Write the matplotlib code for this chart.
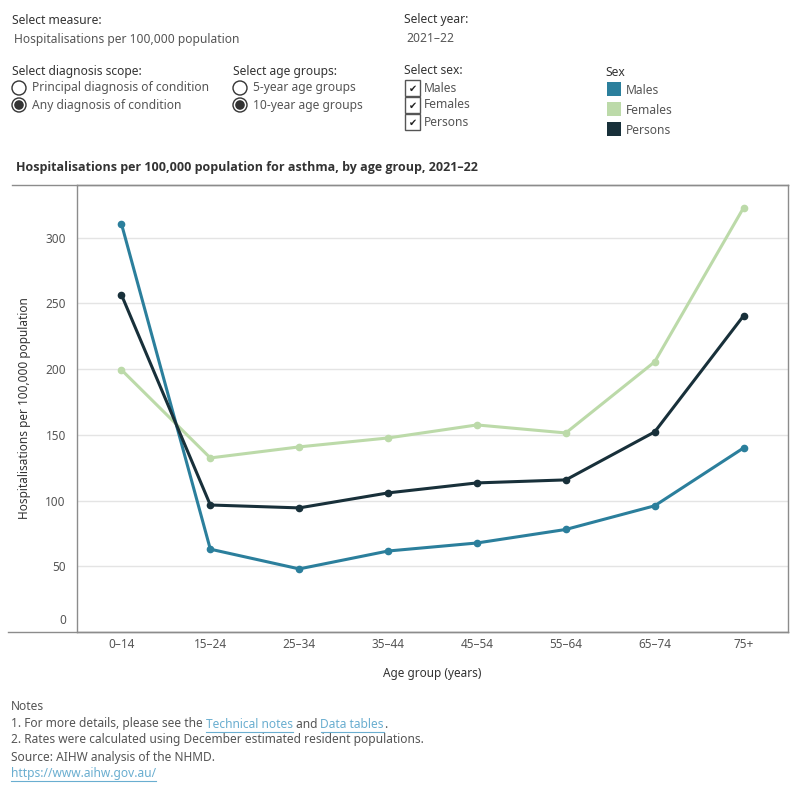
import matplotlib
matplotlib.use("Agg")
import matplotlib.pyplot as plt
from matplotlib.lines import Line2D
from matplotlib.patches import Circle, Rectangle
import matplotlib.transforms as mtransforms

plt.rcParams['font.family'] = ['Noto Sans', 'DejaVu Sans']

# ---------------- data ----------------
age_groups = ["0–14", "15–24", "25–34", "35–44", "45–54", "55–64", "65–74", "75+"]
males = [310.5, 63, 48, 61.6, 67.7, 78, 96, 140]
females = [199.4, 132.4, 140.8, 147.6, 157.5, 151.4, 205.5, 322.7]
persons = [256.5, 96.6, 94.4, 105.8, 113.4, 115.7, 152.2, 240.5]
y_ticks = [0, 50, 100, 150, 200, 250, 300]

series_names = ["Males", "Females", "Persons"]
colors = {"Males": "#2b7f9c", "Females": "#bcdaa9", "Persons": "#18303a"}

W, H = 800, 800
fig = plt.figure(figsize=(8, 8), dpi=100)


def fx(x):
    return x / W


def fy(y):
    return 1 - y / H


TXT = "#555555"
DARK = "#333333"

# ---------------- axes ----------------
L, R, T, B = 77, 788, 185, 632
ax = fig.add_axes([fx(L), fy(B), fx(R - L), (B - T) / H])
xs = list(range(len(age_groups)))
for name, vals in zip(series_names, [males, females, persons]):
    ax.plot(xs, vals, color=colors[name], lw=2.2, marker='o', ms=4.5,
            solid_joinstyle='round', zorder=3)

ax.set_xlim(-0.5, 7.5)
ax.set_ylim(0, 340)
ax.set_xticks(xs)
ax.set_xticklabels(age_groups, fontsize=8.5, color=TXT)
ax.set_yticks(y_ticks)
ax.set_yticklabels([str(v) for v in y_ticks], fontsize=8.5, color=TXT)
ax.tick_params(length=0)
ax.tick_params(axis='y', pad=8)
ax.tick_params(axis='x', pad=4)
ax.grid(axis='y', color='#e4e4e4', lw=1)
ax.set_axisbelow(True)
for s in ax.spines.values():
    s.set_color('#8c8c8c')
    s.set_linewidth(1)
# shift "0" label up
lbl0 = ax.get_yticklabels()[0]
lbl0.set_transform(lbl0.get_transform() + mtransforms.ScaledTranslation(0, 9 / 72, fig.dpi_scale_trans))

ax.set_ylabel("Hospitalisations per 100,000 population", fontsize=8.5, color=DARK, labelpad=10)
ax.set_xlabel("Age group (years)", fontsize=8.5, color=DARK, labelpad=12)

# extension lines
fig.add_artist(Line2D([fx(12), fx(R)], [fy(T), fy(T)], color='#8c8c8c', lw=1))
fig.add_artist(Line2D([fx(8), fx(R)], [fy(B), fy(B)], color='#8c8c8c', lw=1))

# title
fig.text(fx(16), fy(167), "Hospitalisations per 100,000 population for asthma, by age group, 2021–22",
         fontsize=9, fontweight='bold', color=DARK, va='center',
         family=['Open Sans', 'DejaVu Sans'])

# ---------------- header controls ----------------
def t(x, y, s, **kw):
    d = dict(fontsize=8.7, color=TXT, va='center', ha='left')
    d.update(kw)
    return fig.text(fx(x), fy(y), s, **d)

t(12, 20, "Select measure:", color=DARK)
t(14, 39, "Hospitalisations per 100,000 population")
t(404, 20, "Select year:", color=DARK)
t(406, 39, "2021–22")

t(12, 71, "Select diagnosis scope:", color=DARK)
t(233, 71, "Select age groups:", color=DARK)
t(404, 71, "Select sex:", color=DARK)


def radio(cx, cy, sel):
    fig.add_artist(Circle((fx(cx), fy(cy)), 7 / W, transform=fig.transFigure,
                          facecolor='white', edgecolor='#333333', lw=1))
    if sel:
        fig.add_artist(Circle((fx(cx), fy(cy)), 4.8 / W, transform=fig.transFigure,
                              facecolor='#333333', edgecolor='none'))

radio(19, 88, False)
radio(19, 105, True)
t(32, 88, "Principal diagnosis of condition")
t(32, 105, "Any diagnosis of condition")
radio(240, 88, False)
radio(240, 105, True)
t(253, 88, "5-year age groups")
t(253, 105, "10-year age groups")

for i, name in enumerate(series_names):
    y0 = 80 + i * 17
    fig.add_artist(Rectangle((fx(405), fy(y0 + 16)), 15 / W, 16 / H, transform=fig.transFigure,
                             facecolor='white', edgecolor='#555555', lw=1))
    fig.text(fx(412.5), fy(y0 + 8.5), "✔", fontsize=7, color='#222222', ha='center', va='center',
             family=['DejaVu Sans'])
    t(424, y0 + 8, name)

# legend
t(605, 72, "Sex", color=DARK)
for i, name in enumerate(series_names):
    y0 = 82 + i * 20
    fig.add_artist(Rectangle((fx(607), fy(y0 + 14)), 14 / W, 14 / H, transform=fig.transFigure,
                             facecolor=colors[name], edgecolor='none'))
    t(626, y0 + 8, name)

# ---------------- notes ----------------
LINK = "#6aaed0"
fig.canvas.draw()
renderer = fig.canvas.get_renderer()


def seq(x, y, parts):
    for s, link in parts:
        txt = t(x, y, s, color=LINK if link else TXT, fontsize=8.6)
        bb = txt.get_window_extent(renderer)
        if link:
            yy = fy(y + 8)
            fig.add_artist(Line2D([fx(x), fx(x) + bb.width / W], [yy, yy], color=LINK, lw=0.8))
        x += bb.width

seq(11, 707, [("Notes", False)])
seq(11, 724, [("1. For more details, please see the ", False), ("Technical notes", True),
              (" and ", False), ("Data tables", True), (".", False)])
seq(11, 740, [("2. Rates were calculated using December estimated resident populations.", False)])
seq(11, 757, [("Source: AIHW analysis of the NHMD.", False)])
seq(11, 773, [("https://www.aihw.gov.au/", True)])

fig.savefig("out.png", dpi=100)
